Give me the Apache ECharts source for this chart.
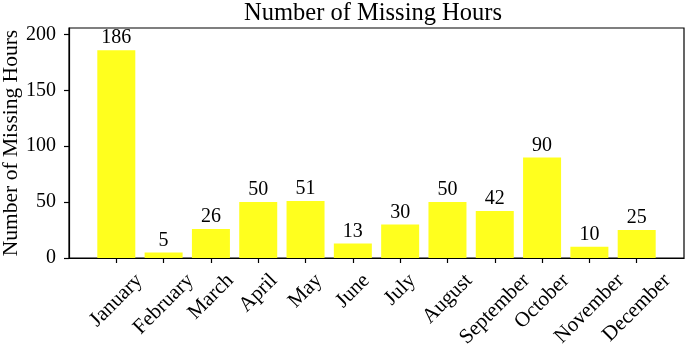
<!DOCTYPE html>
<html><head><meta charset="utf-8">
<script src="https://cdn.jsdelivr.net/npm/echarts@6/dist/echarts.min.js"></script>
<style>html,body{margin:0;padding:0;background:#fff}#c{width:685px;height:347px}</style>
</head><body><div id="c"></div>
<script>
const months = ['January','February','March','April','May','June','July','August','September','October','November','December'];
const missingHours = [186,5,26,50,51,13,30,50,42,90,10,25];
const yTicks = [0,50,100,150,200];
const titleText = 'Number of Missing Hours';
const yName = 'Number of Missing Hours';

const FONT = 'Liberation Serif';
const XFS = 21;
const axisCats = [''].concat(months, ['']);
const seriesData = [null].concat(missingHours, [null]);

// per-label padding so each rotated label is centred under its tick (top-aligned)
const cv = document.createElement('canvas').getContext('2d');
cv.font = XFS + 'px "' + FONT + '"';
const rich = {};
const TOPGAP = 12;
months.forEach((m, i) => {
  const w = cv.measureText(m).width;
  const h = XFS;
  const b = TOPGAP * Math.SQRT2 + (w + h) / 2;
  rich['m' + i] = {fontFamily: FONT, fontSize: XFS, color: '#000', padding: [b, b, 0, 0], lineHeight: XFS};
});

const chart = echarts.init(document.getElementById('c'), null, {renderer:'canvas'});
chart.setOption({
  animation:false,
  backgroundColor:'#fff',
  title:{text:titleText,left:368,top:-4,textAlign:'center',textStyle:{fontFamily:FONT,fontSize:24.5,fontWeight:'normal',color:'#000'}},
  grid:{left:69,right:1,top:28,bottom:89,containLabel:false,outerBoundsMode:'none',show:true,borderColor:'#000',borderWidth:1.2,backgroundColor:'transparent'},
  xAxis:{type:'category',data:axisCats,boundaryGap:false,
    axisLine:{lineStyle:{color:'#000',width:1.2}},
    axisTick:{length:5,lineStyle:{color:'#000',width:1.2},interval:(i,v)=>v!==''},
    axisLabel:{rotate:45,align:'center',verticalAlign:'middle',margin:0,hideOverlap:false,
      fontFamily:FONT,fontSize:XFS,color:'#000',interval:0,
      formatter:(v)=>{const k=months.indexOf(v);return k<0?'':'{m'+k+'|'+v+'}';},
      rich:rich}},
  yAxis:{type:'value',min:0,max:205.8,interval:50,
    name:yName,nameLocation:'middle',nameGap:47,nameMoveOverlap:false,nameTextStyle:{fontFamily:FONT,fontSize:21.5,color:'#000'},
    axisLine:{show:true,lineStyle:{color:'#000',width:1.2}},
    axisTick:{show:true,length:5,lineStyle:{color:'#000',width:1.2}},
    splitLine:{show:false},
    axisLabel:{fontFamily:FONT,fontSize:20,color:'#000',margin:13,showMaxLabel:false}},
  series:[{type:'bar',data:seriesData,barWidth:38,itemStyle:{color:'#ffff1e'},
    label:{show:true,position:'top',distance:2,fontFamily:FONT,fontSize:20,color:'#000'}}]
});
</script></body></html>
